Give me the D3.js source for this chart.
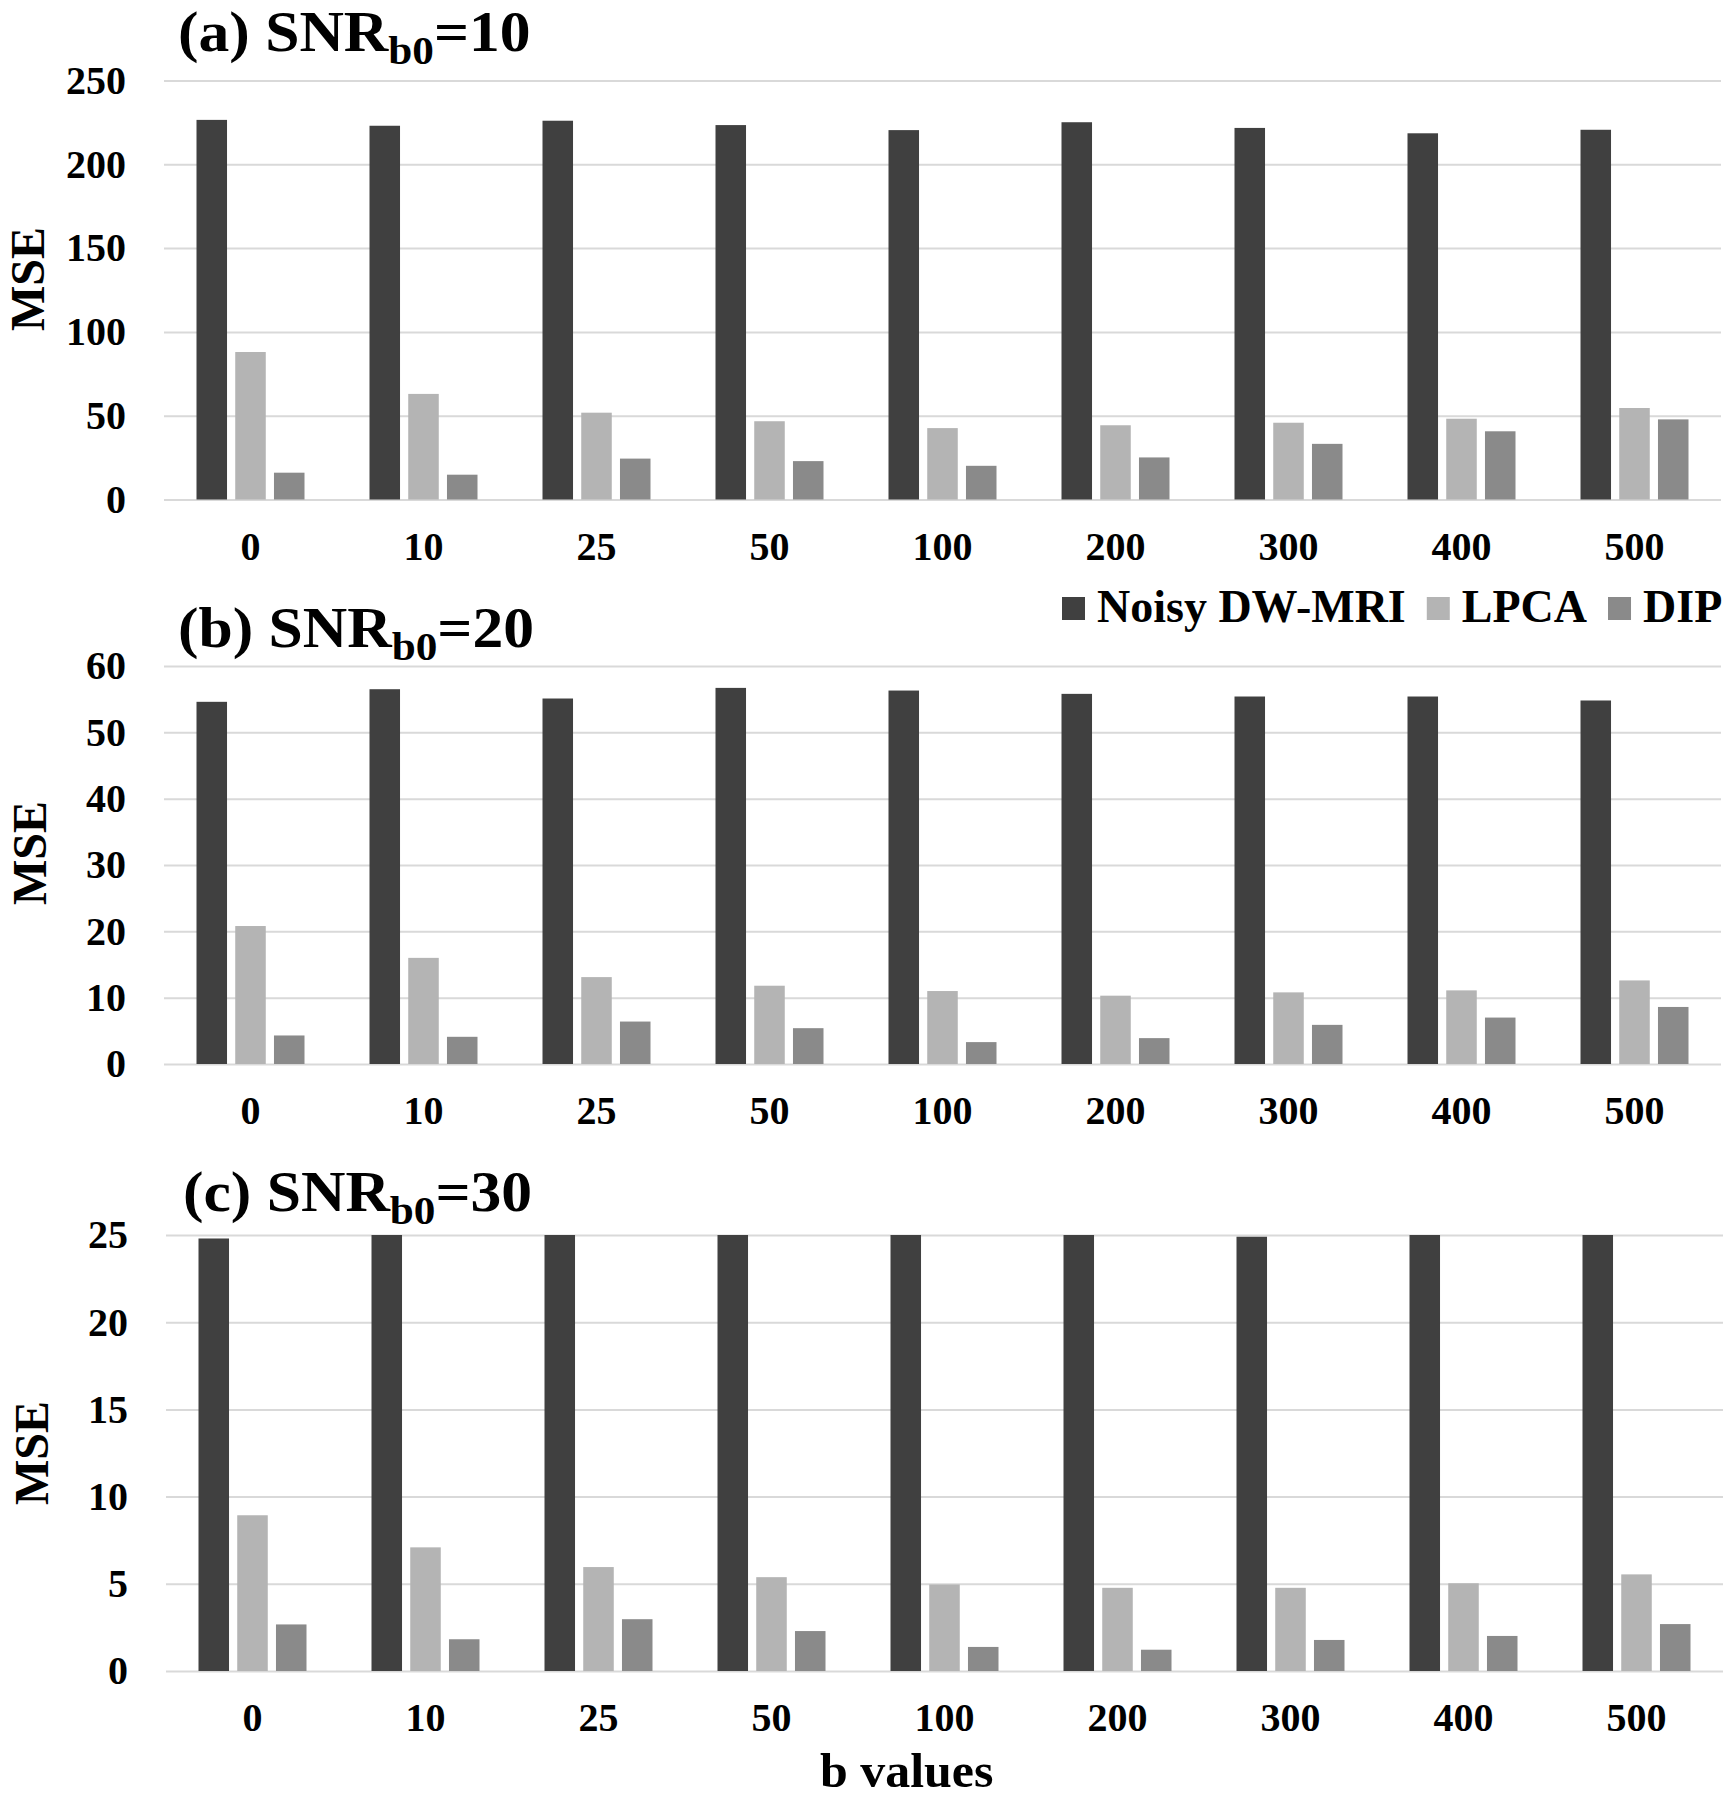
<!DOCTYPE html>
<html>
<head>
<meta charset="utf-8">
<script src="https://cdn.jsdelivr.net/npm/d3@7"></script>
<style>
  body { margin: 0; background: #fff; }
  text { font-family: "Liberation Serif", "Times New Roman", serif; font-weight: bold; fill: #000; }
</style>
</head>
<body>
<svg id="chart" width="1725" height="1799"></svg>
<script>
// ---------- data ----------
const categories = ["0", "10", "25", "50", "100", "200", "300", "400", "500"];
const seriesNames = ["Noisy DW-MRI", "LPCA", "DIP"];
const seriesColors = ["#404040", "#b4b4b4", "#8a8a8a"];

const noisyA = [226.5, 223, 226, 223.4, 220.4, 225.1, 221.7, 218.5, 220.6];
const lpcaA  = [88, 63, 51.8, 46.7, 42.6, 44.3, 45.8, 48.2, 54.6];
const dipA   = [16, 14.8, 24.4, 22.9, 20.1, 25.1, 33.2, 40.7, 47.8];
const ticksA = [0, 50, 100, 150, 200, 250];

const noisyB = [54.6, 56.5, 55.1, 56.7, 56.3, 55.8, 55.4, 55.4, 54.8];
const lpcaB  = [20.8, 16.0, 13.1, 11.8, 11.0, 10.3, 10.8, 11.1, 12.6];
const dipB   = [4.3, 4.1, 6.4, 5.4, 3.3, 3.9, 5.9, 7.0, 8.6];
const ticksB = [0, 10, 20, 30, 40, 50, 60];

const noisyC = [24.8, 25, 25, 25, 25, 25, 24.9, 25, 25];
const lpcaC  = [8.93, 7.09, 5.96, 5.38, 4.96, 4.77, 4.77, 5.03, 5.54];
const dipC   = [2.67, 1.82, 2.97, 2.29, 1.38, 1.22, 1.78, 2.01, 2.69];
const ticksC = [0, 5, 10, 15, 20, 25];

const yLabel = "MSE";
const xLabel = "b values";

// ---------- layout ----------
const svg = d3.select("#chart");

const panels = [
  { letter: "(a) SNR", sub: "b0", rest: "=10", series: [noisyA, lpcaA, dipA], ticks: ticksA,
    left: 164, right: 1721, top: 80.5, bottom: 499.5, titleX: 178, titleY: 51, mseX: 44, mseY: 279 },
  { letter: "(b) SNR", sub: "b0", rest: "=20", series: [noisyB, lpcaB, dipB], ticks: ticksB,
    left: 164, right: 1721, top: 666, bottom: 1064, titleX: 178, titleY: 647, mseX: 46, mseY: 853 },
  { letter: "(c) SNR", sub: "b0", rest: "=30", series: [noisyC, lpcaC, dipC], ticks: ticksC,
    left: 166, right: 1723, top: 1235, bottom: 1671, titleX: 183, titleY: 1211, mseX: 48, mseY: 1453 }
];

panels.forEach(p => {
  const g = svg.append("g");
  const w = p.right - p.left;
  const x = d3.scaleBand().domain(categories).range([p.left, p.right]).padding(0);
  const inner = d3.scaleBand().domain(seriesNames).range([-54, 54]).paddingInner(0.212).paddingOuter(0);
  const y = d3.scaleLinear().domain([0, d3.max(p.ticks)]).range([p.bottom, p.top]).clamp(true);

  // grid + y tick labels
  const yAxis = g.append("g")
    .attr("transform", `translate(${p.left},0)`)
    .call(d3.axisLeft(y).tickValues(p.ticks).tickSize(-w).tickPadding(38).tickFormat(d3.format("d")));
  yAxis.select(".domain").remove();
  yAxis.selectAll(".tick line").attr("stroke", "#d9d9d9").attr("stroke-width", 2);
  yAxis.selectAll(".tick text").style("font-size", "40px").attr("fill", "#000");

  // bars
  seriesNames.forEach((s, si) => {
    g.append("g").selectAll("rect")
      .data(p.series[si])
      .join("rect")
      .attr("x", (d, i) => x(categories[i]) + x.bandwidth() / 2 + inner(s))
      .attr("width", inner.bandwidth())
      .attr("y", d => y(d))
      .attr("height", d => y(0) - y(d))
      .attr("fill", seriesColors[si]);
  });

  // x axis labels
  const xAxis = g.append("g")
    .attr("transform", `translate(0,${p.bottom})`)
    .call(d3.axisBottom(x).tickSize(0).tickPadding(32));
  xAxis.select(".domain").remove();
  xAxis.selectAll(".tick text").style("font-size", "40px").attr("fill", "#000");

  // title
  const t = g.append("text")
    .attr("transform", `translate(${p.titleX},${p.titleY}) scale(1.08,1)`)
    .style("font-size", "57px");
  t.append("tspan").text(p.letter);
  t.append("tspan").text(p.sub).style("font-size", "40px").attr("dy", 13);
  t.append("tspan").text(p.rest).attr("dy", -13);

  // y label
  g.append("text")
    .attr("transform", `translate(${p.mseX},${p.mseY}) rotate(-90)`)
    .attr("text-anchor", "middle")
    .style("font-size", "48px")
    .text(yLabel);
});

// legend
const legend = svg.append("g");
let lx = 1062;
seriesNames.forEach((s, i) => {
  legend.append("rect").attr("x", lx).attr("y", 597).attr("width", 23).attr("height", 23).attr("fill", seriesColors[i]);
  const tx = legend.append("text").attr("x", lx + 35).attr("y", 622).style("font-size", "46px").text(s);
  lx = lx + 35 + tx.node().getComputedTextLength() + 21;
});

// x axis title
svg.append("text")
  .attr("transform", "translate(820,1787) scale(1.04,1)")
  .style("font-size", "48px")
  .text(xLabel);
</script>
</body>
</html>
